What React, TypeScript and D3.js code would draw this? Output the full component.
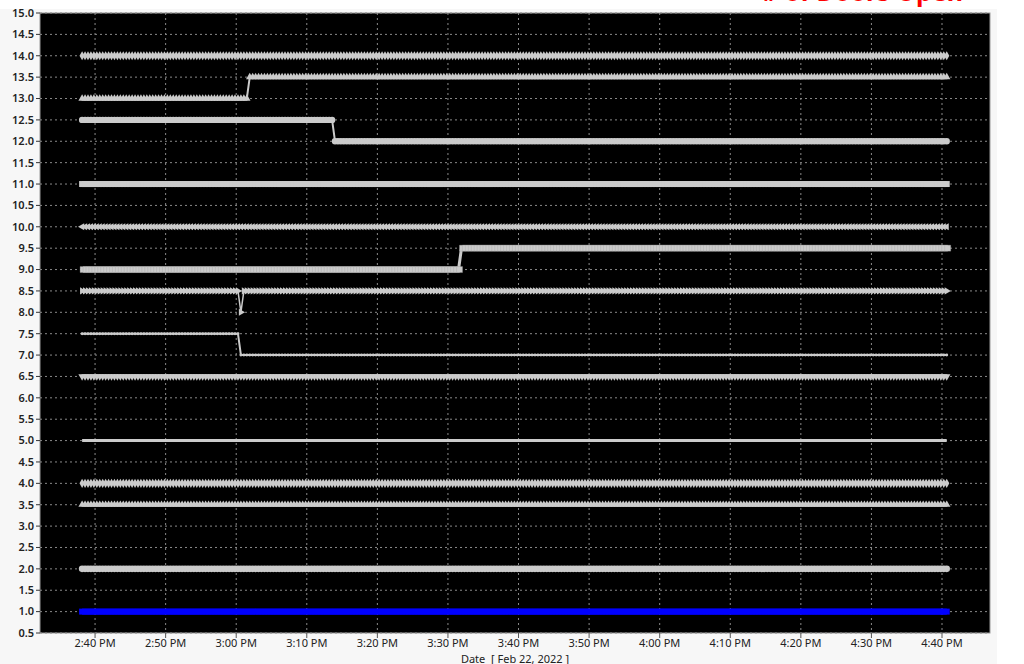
import * as d3 from 'd3';
import React from 'react';

const chartTitle = '# of Doors Open';
const xTitle = 'Date  [ Feb 22, 2022 ]';

// sampling of the recorded signals
const sampleStart = '14:38:10';
const sampleEnd = '16:40:50';
const sampleStepSec = 25;

const xTickTimes = ['14:40', '14:50', '15:00', '15:10', '15:20', '15:30', '15:40', '15:50', '16:00', '16:10', '16:20', '16:30', '16:40'];
const yTicks = [0.5, 1.0, 1.5, 2.0, 2.5, 3.0, 3.5, 4.0, 4.5, 5.0, 5.5, 6.0, 6.5, 7.0, 7.5, 8.0, 8.5, 9.0, 9.5, 10.0, 10.5, 11.0, 11.5, 12.0, 12.5, 13.0, 13.5, 14.0, 14.5, 15.0];

// each series: [time the value starts, value]
const door14: [string, number][] = [['14:38:10', 14.0]];
const door13: [string, number][] = [['14:38:10', 13.0], ['15:01:40', 13.5]];
const door12: [string, number][] = [['14:38:10', 12.5], ['15:13:50', 12.0]];
const door11: [string, number][] = [['14:38:10', 11.0]];
const door10: [string, number][] = [['14:38:10', 10.0]];
const door9: [string, number][] = [['14:38:10', 9.0], ['15:31:35', 9.5]];
const door8: [string, number][] = [['14:38:10', 8.5], ['15:00:40', 8.0], ['15:01:00', 8.5]];
const door7: [string, number][] = [['14:38:10', 7.5], ['15:00:40', 7.0]];
const door6: [string, number][] = [['14:38:10', 6.5]];
const door5: [string, number][] = [['14:38:10', 5.0]];
const door4: [string, number][] = [['14:38:10', 4.0]];
const door3: [string, number][] = [['14:38:10', 3.5]];
const door2: [string, number][] = [['14:38:10', 2.0]];
const door1: [string, number][] = [['14:38:10', 1.0]];

const at = (t: string) => {
  const [h, m, s] = t.split(':').map(Number);
  return new Date(2022, 1, 22, h, m, s || 0);
};

interface SeriesStyle {
  steps: [string, number][];
  marker: 'diamond' | 'triUp' | 'triDown' | 'triLeft' | 'triRight' | 'circle' | 'square' | 'rect' | 'none';
  size: number;
  width: number;
  color: string;
}

const GREY = '#cbcbcb';

const series: SeriesStyle[] = [
  { steps: door14, marker: 'diamond', size: 24, width: 2, color: GREY },
  { steps: door13, marker: 'triUp', size: 24, width: 2, color: GREY },
  { steps: door12, marker: 'circle', size: 32, width: 2, color: GREY },
  { steps: door11, marker: 'square', size: 36, width: 3, color: GREY },
  { steps: door10, marker: 'triLeft', size: 22, width: 2, color: GREY },
  { steps: door9, marker: 'rect', size: 0, width: 3, color: GREY },
  { steps: door8, marker: 'triRight', size: 22, width: 1.5, color: GREY },
  { steps: door7, marker: 'circle', size: 7, width: 2, color: GREY },
  { steps: door6, marker: 'triDown', size: 24, width: 2, color: GREY },
  { steps: door5, marker: 'none', size: 0, width: 3, color: GREY },
  { steps: door4, marker: 'diamond', size: 24, width: 2, color: GREY },
  { steps: door3, marker: 'triUp', size: 24, width: 2, color: GREY },
  { steps: door2, marker: 'circle', size: 34, width: 2, color: GREY },
  { steps: door1, marker: 'square', size: 36, width: 3, color: '#0000ff' },
];

const W = 1024;
const H = 664;
const plot = { left: 40, top: 13, right: 990, bottom: 633 };

export default function App() {
  const x = d3.scaleTime().domain([at('14:32:12'), at('16:46:48')]).range([plot.left, plot.right]);
  const y = d3.scaleLinear().domain([0.5, 15]).range([plot.bottom, plot.top]);

  const t0 = at(sampleStart).getTime();
  const t1 = at(sampleEnd).getTime();
  const samples = d3.range(t0, t1 + 1, sampleStepSec * 1000).map((t) => new Date(t));

  const valueAt = (steps: [string, number][], d: Date) => {
    let v = steps[0][1];
    for (const [t, val] of steps) if (at(t).getTime() <= d.getTime()) v = val;
    return v;
  };

  const line = d3.line<[Date, number]>().x((d) => x(d[0])).y((d) => y(d[1]));
  const fmt = d3.timeFormat('%-I:%M %p');
  const font = '"Noto Sans", "Open Sans", sans-serif';

  const symbolPath = (marker: SeriesStyle['marker'], size: number) => {
    switch (marker) {
      case 'diamond':
        return { d: d3.symbol(d3.symbolDiamond, size)()!, rot: 0 };
      case 'triUp':
        return { d: d3.symbol(d3.symbolTriangle, size)()!, rot: 0 };
      case 'triDown':
        return { d: d3.symbol(d3.symbolTriangle, size)()!, rot: 180 };
      case 'triLeft':
        return { d: d3.symbol(d3.symbolTriangle, size)()!, rot: 270 };
      case 'triRight':
        return { d: d3.symbol(d3.symbolTriangle, size)()!, rot: 90 };
      case 'circle':
        return { d: d3.symbol(d3.symbolCircle, size)()!, rot: 0 };
      case 'square':
        return { d: d3.symbol(d3.symbolSquare, size)()!, rot: 0 };
      case 'rect':
        return { d: 'M-2,-3H4V3H-2Z', rot: 0 };
      default:
        return null;
    }
  };

  return (
    <>
      <style>{`body{margin:0;overflow:hidden}`}</style>
      <svg width={W} height={H} style={{ display: 'block', fontFamily: font }}>
        <rect x={0} y={0} width={W} height={H} fill="#ffffff" />
        <rect x={0} y={9} width={997} height={H - 9} fill="#f7f7f7" />
        <text x={963} y={1} textAnchor="end" fill="#ff0000" fontSize={25} fontWeight="bold">
          {chartTitle}
        </text>

        <rect x={plot.left} y={plot.top} width={plot.right - plot.left} height={plot.bottom - plot.top} fill="#000000" stroke="#9a9a9a" strokeWidth={1} />

        {/* grid */}
        {yTicks.map((v) => (
          <g key={'y' + v}>
            <line x1={plot.left} x2={plot.right} y1={y(v)} y2={y(v)} stroke="#8a8a8a" strokeWidth={1} strokeDasharray="2,3" />
            <line x1={plot.left - 4} x2={plot.left} y1={y(v)} y2={y(v)} stroke="#333" />
            <text x={plot.left - 6} y={y(v)} dy="0.35em" textAnchor="end" fontSize={11} fontWeight={600} fill="#222">
              {v.toFixed(1)}
            </text>
          </g>
        ))}
        {xTickTimes.map((t) => (
          <g key={'x' + t}>
            <line x1={x(at(t))} x2={x(at(t))} y1={plot.top} y2={plot.bottom} stroke="#8a8a8a" strokeWidth={1} strokeDasharray="2,3" />
            <line x1={x(at(t))} x2={x(at(t))} y1={plot.bottom} y2={plot.bottom + 5} stroke="#555" />
            <text x={x(at(t))} y={plot.bottom + 14} textAnchor="middle" fontSize={11} fill="#222">
              {fmt(at(t))}
            </text>
          </g>
        ))}
        <text x={515} y={663} textAnchor="middle" fontSize={11} fill="#222" style={{ whiteSpace: 'pre' }}>
          {xTitle}
        </text>

        {/* series */}
        {series.map((s, i) => {
          const pts: [Date, number][] = samples.map((d) => [d, valueAt(s.steps, d)]);
          const sym = symbolPath(s.marker, s.size);
          return (
            <g key={i}>
              <path d={line(pts) || ''} fill="none" stroke={s.color} strokeWidth={s.width} />
              {sym &&
                pts.map((p, j) => (
                  <path
                    key={j}
                    d={sym.d}
                    transform={`translate(${x(p[0])},${y(p[1])}) rotate(${sym.rot})`}
                    fill={s.color}
                    stroke={s.marker === 'rect' ? '#9c9c9c' : 'none'}
                    strokeWidth={s.marker === 'rect' ? 0.3 : 0}
                  />
                ))}
            </g>
          );
        })}
      </svg>
    </>
  );
}
